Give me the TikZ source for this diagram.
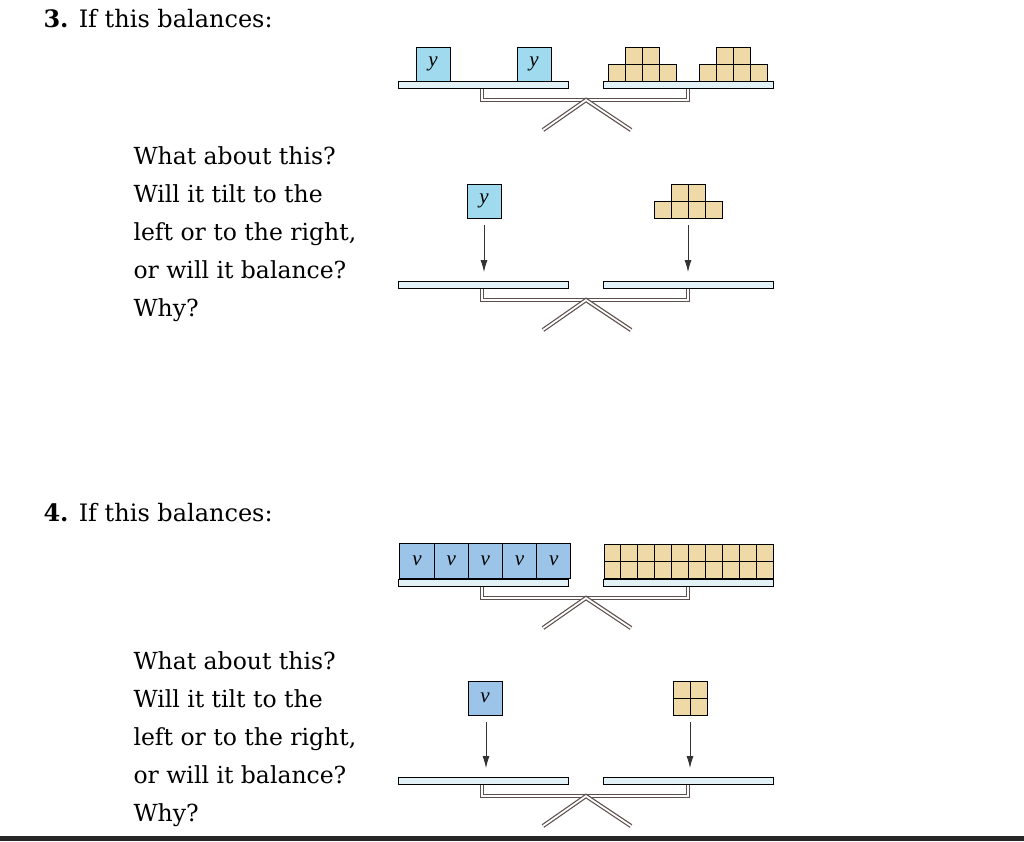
\documentclass[tikz,border=0pt]{standalone}
\usepackage{fontspec}
\setmainfont{DejaVu Serif}
\newfontfamily\lblfont{Liberation Serif}
\usetikzlibrary{arrows.meta}
\begin{document}
\begin{tikzpicture}[x=1pt,y=-1pt,
  pan/.style={draw=black,fill=panblue,line width=1pt},
  frame/.style={draw=framec,double=white,double distance=1.8pt,line width=1.2pt},
  yblk/.style={draw=black,fill=ycol,line width=1pt},
  vblk/.style={draw=black,fill=vcol,line width=1pt},
  unit/.style={draw=black,fill=tan,line width=1pt},
  arr/.style={-{Latex[length=12pt,width=7pt]},line width=0.8pt,draw=black!80},
  q/.style={anchor=west,font=\fontsize{23.5}{38}\selectfont},
  lbl/.style={font=\lblfont\itshape\fontsize{21}{21}\selectfont}]
\definecolor{panblue}{HTML}{E2F1F5}
\definecolor{framec}{HTML}{5E504C}
\definecolor{ycol}{HTML}{9FDAEE}
\definecolor{vcol}{HTML}{9CC4E8}
\definecolor{tan}{HTML}{EFD9A6}
\fill[white] (0,0) rectangle (1024,841);
\fill[black!85] (0,836) rectangle (1024,841);
\newcommand{\mybalance}[1]{%
  \draw[frame] (482,#1+7) |- (586,#1+19) -| (688,#1+7);
  \draw[frame] (543,#1+49) -- (586,#1+19) -- (631,#1+49);
  \draw[pan] (398,#1) rectangle (568,#1+7);
  \draw[pan] (603,#1) rectangle (773,#1+7);
}
\newcommand{\sq}[2]{\draw[unit] (#1,#2) rectangle ++(17,17);}
% Problem 3
\node[q,font=\fontsize{24}{28}\selectfont] (t3) at (40,19) {\textbf{3.} If this balances:};
\mybalance{81}
\node[yblk,minimum size=34pt,inner sep=0pt,lbl] (y1) at (433,64) {y};
\node[yblk,minimum size=34pt,inner sep=0pt,lbl] (y2) at (534,64) {y};
\foreach \x in {608,625,642,659} {\sq{\x}{64}}
\foreach \x in {625,642} {\sq{\x}{47}}
\foreach \x in {699,716,733,750} {\sq{\x}{64}}
\foreach \x in {716,733} {\sq{\x}{47}}
\node[q,align=left] (w3) at (130,234) {What about this?\\Will it tilt to the\\left or to the right,\\or will it balance?\\Why?};
\mybalance{281}
\node[yblk,minimum size=34pt,inner sep=0pt,lbl] (y3) at (484,201) {y};
\foreach \x in {654,671,688,705} {\sq{\x}{201}}
\foreach \x in {671,688} {\sq{\x}{184}}
\coordinate (a1s) at (484,225); \coordinate (a1e) at (484,272);
\coordinate (a2s) at (688,225); \coordinate (a2e) at (688,272);
\draw[arr] (a1s) -- (a1e);
\draw[arr] (a2s) -- (a2e);
% Problem 4
\node[q,font=\fontsize{24}{28}\selectfont] (t4) at (40,513) {\textbf{4.} If this balances:};
\mybalance{579}
\foreach \i in {0,...,4} {\node[vblk,minimum width=34.2pt,minimum height=35pt,inner sep=0pt,lbl] (v\i) at (417+34.2*\i,561) {v};}
\foreach \i in {0,...,9} {\sq{604+16.9*\i}{544}\sq{604+16.9*\i}{561}}
\node[q,align=left] (w4) at (130,739) {What about this?\\Will it tilt to the\\left or to the right,\\or will it balance?\\Why?};
\mybalance{777}
\node[vblk,minimum size=34pt,inner sep=0pt,lbl] (v5) at (485,698) {v};
\sq{673}{681}\sq{690}{681}\sq{673}{698}\sq{690}{698}
\coordinate (b1s) at (486,722); \coordinate (b1e) at (486,768);
\coordinate (b2s) at (690,722); \coordinate (b2e) at (690,768);
\draw[arr] (b1s) -- (b1e);
\draw[arr] (b2s) -- (b2e);
\end{tikzpicture}
\end{document}
